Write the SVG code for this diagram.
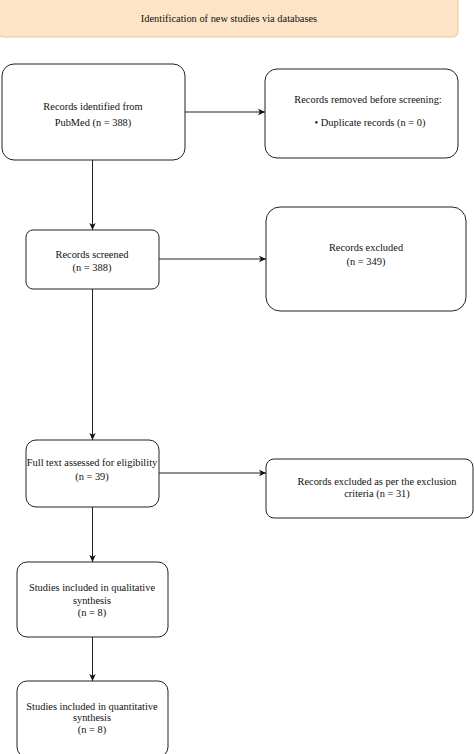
<svg xmlns="http://www.w3.org/2000/svg" width="474" height="754" viewBox="0 0 474 754">
<style>
.box{fill:#fff;stroke:#222;stroke-width:1}
.t{font-family:"Liberation Serif","Times New Roman",serif;font-size:10.4px;fill:#111;text-anchor:middle}
.c{stroke:#222;stroke-width:1;fill:none}
</style>
<defs>
<marker id="a" markerWidth="8" markerHeight="8" refX="7" refY="4" orient="auto" markerUnits="userSpaceOnUse">
<path d="M0,0.8 L7,4 L0,7.2 L1.8,4 Z" fill="#111"/>
</marker>
</defs>
<rect width="474" height="754" fill="#fff"/>
<g id="banner">
<rect x="-2" y="-6" width="460" height="43" rx="5" fill="#fde4c6" stroke="#efc68c" stroke-width="1"/>
<text class="t" x="229" y="22">Identification of new studies via databases</text>
</g>
<g id="identified">
<rect class="box" x="2" y="64" width="183" height="96" rx="12"/>
<text class="t" x="93" y="110">Records identified from</text>
<text class="t" x="93" y="126">PubMed (n = 388)</text>
</g>
<g id="removed">
<rect class="box" x="265" y="69" width="193" height="89" rx="12"/>
<text class="t" x="368" y="103">Records removed before screening:</text>
<text class="t" x="370" y="126">•  Duplicate records (n = 0)</text>
</g>
<g id="screened">
<rect class="box" x="26" y="230" width="133" height="59" rx="7"/>
<text class="t" x="92" y="258">Records screened</text>
<text class="t" x="92" y="271">(n = 388)</text>
</g>
<g id="excluded">
<rect class="box" x="266" y="207" width="200" height="104" rx="14"/>
<text class="t" x="366" y="251">Records excluded</text>
<text class="t" x="366" y="265">(n = 349)</text>
</g>
<g id="fulltext">
<rect class="box" x="26" y="440" width="133" height="67" rx="10"/>
<text class="t" x="92" y="466">Full text assessed for eligibility</text>
<text class="t" x="92" y="480">(n = 39)</text>
</g>
<g id="excluded2">
<rect class="box" x="266" y="459" width="207" height="59" rx="8"/>
<text class="t" x="377" y="485">Records excluded as per the exclusion</text>
<text class="t" x="377" y="497">criteria (n = 31)</text>
</g>
<g id="qualitative">
<rect class="box" x="17" y="562" width="151" height="75" rx="10"/>
<text class="t" x="92" y="591">Studies included in qualitative</text>
<text class="t" x="92" y="604">synthesis</text>
<text class="t" x="92" y="616">(n = 8)</text>
</g>
<g id="quantitative">
<rect class="box" x="17" y="681" width="151" height="76" rx="10"/>
<text class="t" x="92" y="710">Studies included in quantitative</text>
<text class="t" x="92" y="721">synthesis</text>
<text class="t" x="92" y="733">(n = 8)</text>
</g>
<g id="connectors">
<path class="c" d="M185,112 H265" marker-end="url(#a)"/>
<path class="c" d="M92.5,160 V230" marker-end="url(#a)"/>
<path class="c" d="M159,259 H266" marker-end="url(#a)"/>
<path class="c" d="M92.5,289 V440" marker-end="url(#a)"/>
<path class="c" d="M159,473 H266" marker-end="url(#a)"/>
<path class="c" d="M92.5,507 V562" marker-end="url(#a)"/>
<path class="c" d="M92.5,637 V681" marker-end="url(#a)"/>
</g>
</svg>
